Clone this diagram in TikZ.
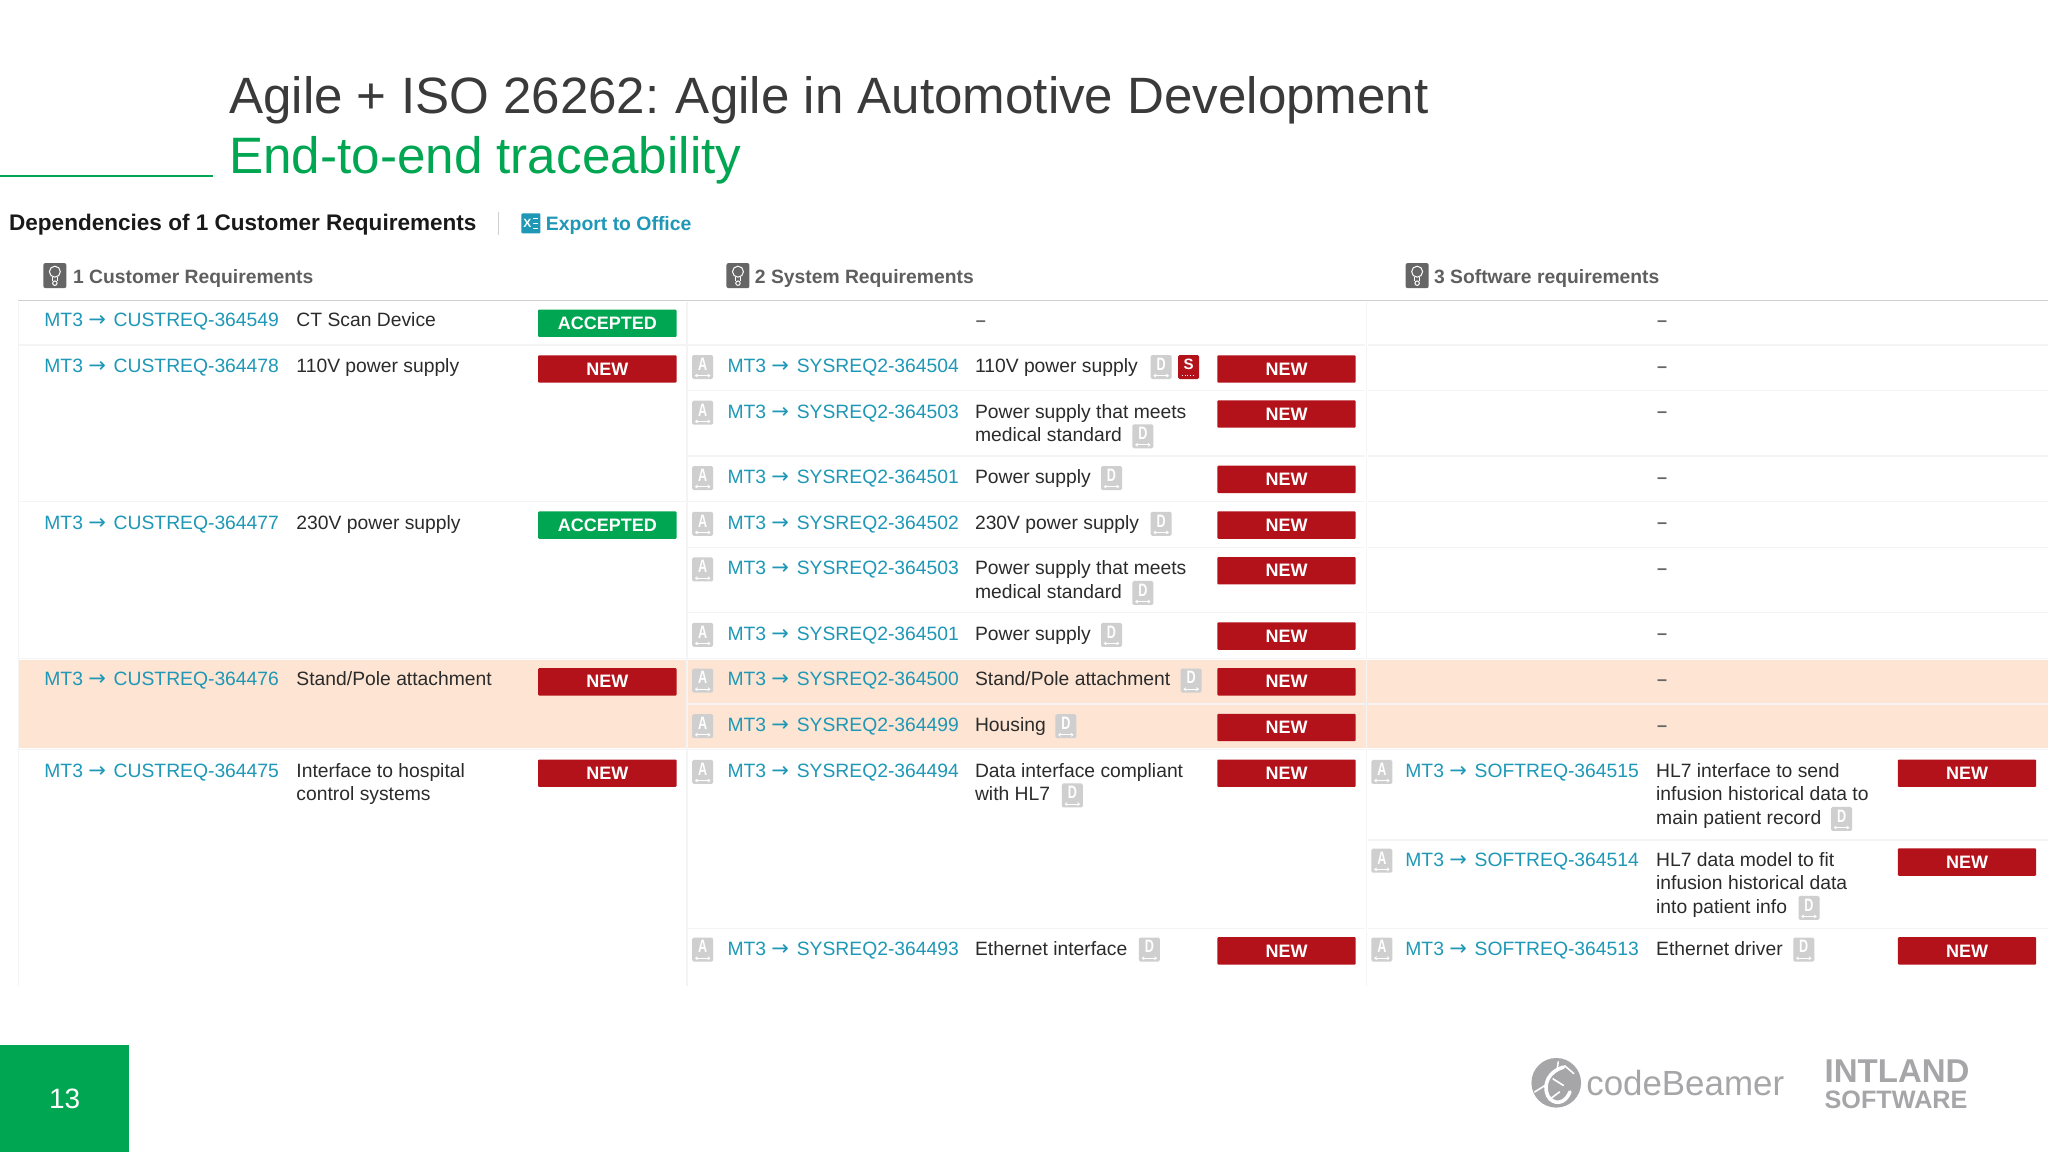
\documentclass[tikz,border=0pt]{standalone}
\usepackage{fontspec}
\usetikzlibrary{arrows.meta}
\setmainfont{Liberation Sans}
\newfontfamily\arrowf{DejaVu Sans}
\definecolor{titlegray}{HTML}{3A3A3A}
\definecolor{agreen}{HTML}{00A651}
\definecolor{linkblue}{HTML}{1E98B6}
\definecolor{newred}{HTML}{B3121A}
\definecolor{peach}{HTML}{FDE4D3}
\definecolor{iconlite}{HTML}{CFCFCF}
\definecolor{icondark}{HTML}{666666}
\definecolor{hdrgray}{HTML}{5F5F5F}
\definecolor{txt}{HTML}{2B2B2B}
\definecolor{sepl}{HTML}{F4F4F4}
\definecolor{logogray}{HTML}{A6A6A8}
\newcommand{\fsz}[1]{\fontsize{#1}{#1}\selectfont}
\newcounter{nid}
\tikzset{
  x=1.30612pt,y=-1.30612pt,
  txtbase/.style={anchor=base west,inner sep=0pt,outer sep=0pt},
  titleone/.style={txtbase,text=titlegray,font=\fsz{51.1}},
  titletwo/.style={txtbase,text=agreen,font=\fsz{51.2}},
  linktext/.style={txtbase,text=linkblue,font=\fsz{19.3}},
  desctext/.style={txtbase,text=txt,font=\fsz{19.3}},
  hdrtext/.style={txtbase,text=hdrgray,font=\bfseries\fsz{19.3}},
  badgebox/.style={rounded corners=1pt,minimum width=138.4pt,minimum height=27.4pt,inner sep=0pt,font=\bfseries\fsz{18},text=white},
  iconA/.style={fill=iconlite,rounded corners=1.5pt,minimum width=21pt,minimum height=24pt,inner sep=0pt},
  sepline/.style={draw=sepl,line width=1.4pt},
  logotxt/.style={txtbase,text=logogray},
}
% link text: x, y-centre, text
\newcommand{\lnk}[3]{\stepcounter{nid}\node[linktext] (lnk\arabic{nid}) at (#1,#2+5.2) {MT3 {\arrowf\fsz{21}→}\kern2.4pt\ #3};}
\newcommand{\dsc}[3]{\stepcounter{nid}\node[desctext] (dsc\arabic{nid}) at (#1,#2+5.2) {#3};}
\newcommand{\newb}[2]{\stepcounter{nid}\node[badgebox,fill=newred] (bdg\arabic{nid}) at (#1,#2) {NEW};}
\newcommand{\accb}[2]{\stepcounter{nid}\node[badgebox,fill=agreen] (bdg\arabic{nid}) at (#1,#2) {ACCEPTED};}
\newcommand{\ico}[3]{\stepcounter{nid}\node[iconA] (ico\arabic{nid}) at (#1,#2) {};
  \node[inner sep=0pt,text=white,font=\bfseries\fsz{18}] (icl\arabic{nid}) at (#1,#2-2.2) {\scalebox{.7}[1]{#3}};
  \draw[white,line width=.8pt,{Straight Barb[length=2pt,width=3pt]}-{Straight Barb[length=2pt,width=3pt]}] (#1-6,#2+6.6) -- (#1+6,#2+6.6);}
\newcommand{\bulb}[2]{\stepcounter{nid}\node[fill=icondark,rounded corners=2pt,minimum width=23pt,minimum height=25pt,inner sep=0pt] (blb\arabic{nid}) at (#1,#2) {};
  \draw[white,line width=1pt] (#1,#2-3) circle (4.2);
  \draw[white,line width=1pt] (#1-1.8,#2+1.2) -- (#1-1.8,#2+4) (#1+1.8,#2+1.2) -- (#1+1.8,#2+4);
  \draw[white,line width=1pt] (#1,#2+5.8) circle (1.7);}
\newcommand{\dsh}[2]{\stepcounter{nid}\node[inner sep=0pt,text=icondark,font=\bfseries\fsz{18}] (dsh\arabic{nid}) at (#1,#2+1.8) {--};}
\begin{document}
\begin{tikzpicture}
\useasboundingbox (0,0) rectangle (1568,882);
\fill[white] (0,0) rectangle (1568,882);
% title
\node[titleone] (title) at (175.5,87) {Agile + ISO 26262:\kern-2.5pt{} Agile in Automotive Development};
\node[titletwo] (subtitle) at (175.5,133) {End-to-end traceability};
\draw[agreen,line width=1.7pt] (0,135) -- (163,135);
% heading row
\node[txtbase,text=black!90,font=\bfseries\fsz{22.55}] (dep) at (7,176.5) {Dependencies of 1 Customer Requirements};
\draw[iconlite,line width=1pt] (382,162) -- (382,180);
\node[fill=linkblue,rounded corners=1pt,minimum width=19pt,minimum height=20pt,inner sep=0pt,text=white,font=\bfseries\fsz{12}] (xl) at (406.5,171) {\hspace*{-7pt}X};
\draw[white,line width=.7pt] (408,167.5) -- (412,167.5) (408,171) -- (412,171) (408,174.5) -- (412,174.5);
\node[txtbase,text=linkblue,font=\bfseries\fsz{19.4}] (export) at (418,176.5) {Export to Office};
% peach band
\fill[peach] (14,505) rectangle (1568,573);
% table grid
\draw[iconlite,line width=1.6pt] (14,230) -- (1568,230);
\foreach \yy in {264,384,504,574} \draw[sepline] (14,\yy) -- (525,\yy);
\foreach \yy in {264,299,349,384,419,469,504,539,574,711} \draw[sepline] (527,\yy) -- (1045,\yy);
\foreach \yy in {264,299,349,384,419,469,504,539,574,643,711} \draw[sepline] (1047,\yy) -- (1568,\yy);
\foreach \xx in {14,526,1046} \draw[sepline] (\xx,231) -- (\xx,755);
% headers
\bulb{42}{211}\node[hdrtext] (h1) at (56,217) {1 Customer Requirements};
\bulb{565}{211}\node[hdrtext] (h2) at (578,217) {2 System Requirements};
\bulb{1085}{211}\node[hdrtext] (h3) at (1098,217) {3 Software requirements};
% column 1
\lnk{34}{245}{CUSTREQ-364549}\dsc{227}{245}{CT Scan Device}\accb{465}{247.5}
\lnk{34}{280}{CUSTREQ-364478}\dsc{227}{280}{110V power supply}\newb{465}{282.5}
\lnk{34}{400}{CUSTREQ-364477}\dsc{227}{400}{230V power supply}\accb{465}{402}
\lnk{34}{520}{CUSTREQ-364476}\dsc{227}{520}{Stand/Pole attachment}\newb{465}{522}
\lnk{34}{590}{CUSTREQ-364475}\dsc{227}{590}{Interface to hospital}\dsc{227}{608}{control systems}\newb{465}{592}
% column 2
\dsh{751}{246}
\ico{538}{281}{A}\lnk{557}{280}{SYSREQ2-364504}\dsc{746.5}{280}{110V power supply}\ico{889}{281}{D}
\stepcounter{nid}\node[iconA,fill=newred] (ico\arabic{nid}) at (910,281) {};
\node[inner sep=0pt,text=white,font=\bfseries\fsz{15}] (sicon) at (910,279) {S};
\draw[white,line width=.7pt,dotted] (905,287.5) -- (915,287.5);
\newb{985}{282.5}
\ico{538}{316}{A}\lnk{557}{315}{SYSREQ2-364503}\dsc{746.5}{315}{Power supply that meets}\dsc{746.5}{333}{medical standard}\ico{875}{334}{D}\newb{985}{317}
\ico{538}{366}{A}\lnk{557}{365}{SYSREQ2-364501}\dsc{746.5}{365}{Power supply}\ico{851}{366}{D}\newb{985}{367}
\ico{538}{401}{A}\lnk{557}{400}{SYSREQ2-364502}\dsc{746.5}{400}{230V power supply}\ico{889}{401}{D}\newb{985}{402}
\ico{538}{436}{A}\lnk{557}{435}{SYSREQ2-364503}\dsc{746.5}{435}{Power supply that meets}\dsc{746.5}{453}{medical standard}\ico{875}{454}{D}\newb{985}{437}
\ico{538}{486}{A}\lnk{557}{485}{SYSREQ2-364501}\dsc{746.5}{485}{Power supply}\ico{851}{486}{D}\newb{985}{487}
\ico{538}{521}{A}\lnk{557}{520}{SYSREQ2-364500}\dsc{746.5}{520}{Stand/Pole attachment}\ico{912}{521}{D}\newb{985}{522}
\ico{538}{556}{A}\lnk{557}{555}{SYSREQ2-364499}\dsc{746.5}{555}{Housing}\ico{816}{556}{D}\newb{985}{557}
\ico{538}{591}{A}\lnk{557}{590}{SYSREQ2-364494}\dsc{746.5}{590}{Data interface compliant}\dsc{746.5}{608}{with HL7}\ico{821}{609}{D}\newb{985}{592}
\ico{538}{727}{A}\lnk{557}{726}{SYSREQ2-364493}\dsc{746.5}{726}{Ethernet interface}\ico{880}{727}{D}\newb{985}{728}
% column 3
\foreach \yy in {246,281,316,366,401,436,486,521,556} {\dsh{1272.5}{\yy}}
\ico{1058}{591}{A}\lnk{1076}{590}{SOFTREQ-364515}\dsc{1268}{590}{HL7 interface to send}\dsc{1268}{608}{infusion historical data to}\dsc{1268}{626}{main patient record}\ico{1410}{627}{D}\newb{1506}{592}
\ico{1058}{659}{A}\lnk{1076}{658}{SOFTREQ-364514}\dsc{1268}{658}{HL7 data model to fit}\dsc{1268}{676}{infusion historical data}\dsc{1268}{694}{into patient info}\ico{1385}{695}{D}\newb{1506}{660}
\ico{1058}{727}{A}\lnk{1076}{726}{SOFTREQ-364513}\dsc{1268}{726}{Ethernet driver}\ico{1381}{727}{D}\newb{1506}{728}
% footer
\node[fill=agreen,minimum width=128.8pt,minimum height=107.1pt,inner sep=0pt,anchor=north west] (pagebox) at (0,800) {};
\node[inner sep=0pt,text=white,font=\fsz{28}] (pagenum) at (49.5,841.5) {13};
% logos
\fill[logogray] (1191.5,829) circle (19);
\draw[white,line width=3.6pt,line cap=round] (1197,817) .. controls (1186,820) and (1181,830) .. (1185,839) .. controls (1189,846) and (1198,846) .. (1202,836);
\draw[white,line width=1.6pt,line cap=round] (1198,816) -- (1205,822) (1192,820) -- (1193,813) (1183,831) -- (1175,836) (1186,842) -- (1194,836) (1189,826) -- (1197,831);
\node[logotxt,font=\fsz{34.9}] (cb) at (1214.5,838.5) {codeBeamer};
\node[logotxt,font=\bfseries\fsz{33}] (intland) at (1397,829) {INTLAND};
\node[logotxt,font=\bfseries\fsz{25.2}] (software) at (1397,848.5) {SOFTWARE};
\end{tikzpicture}
\end{document}
